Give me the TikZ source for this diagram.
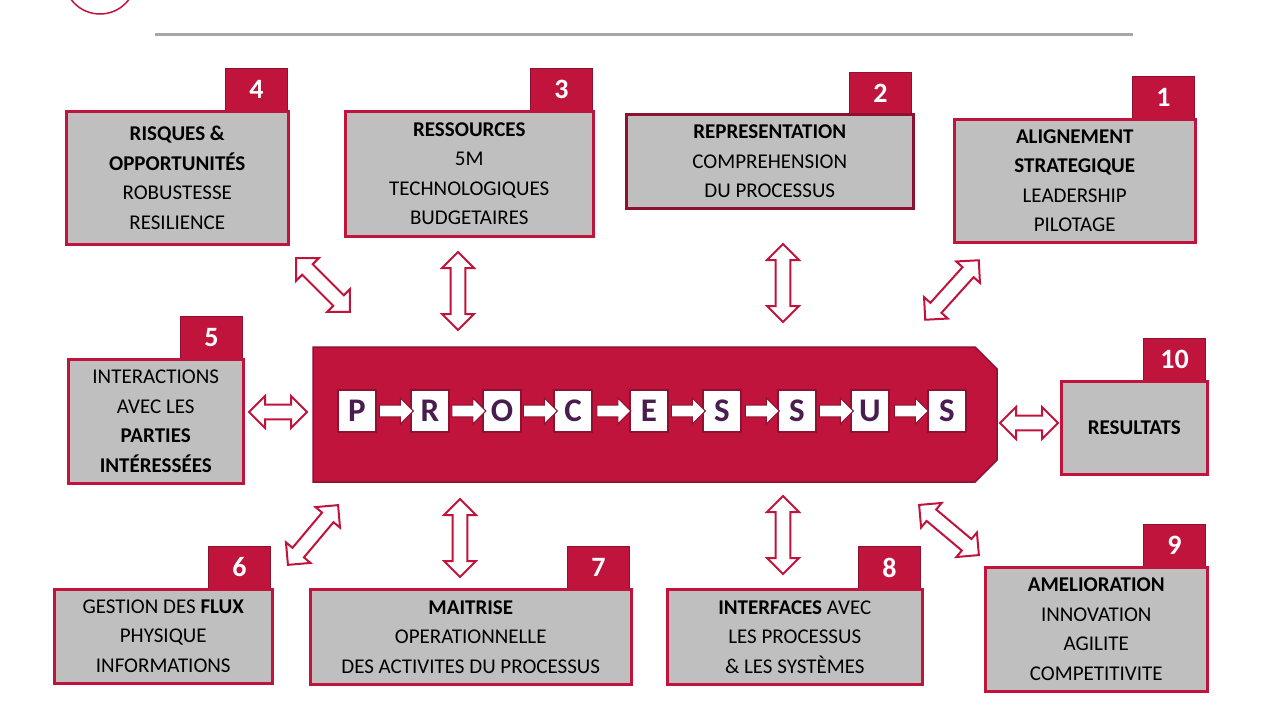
\documentclass[tikz,border=0pt]{standalone}
\usepackage{fontspec}
\setmainfont{Carlito}
\usetikzlibrary{shapes.arrows,arrows.meta}
\definecolor{crim}{HTML}{C0143C}
\definecolor{dred}{HTML}{8E1230}
\definecolor{gbox}{HTML}{BFBFBF}
\definecolor{ltr}{HTML}{4A1D4F}
\tikzset{
 box/.style={draw=crim,line width=2.5pt,fill=gbox,anchor=north west,align=center,font=\fontsize{21}{29.5}\selectfont,inner sep=0pt},
 tab/.style={fill=crim,draw=dred,line width=1pt,anchor=north west,minimum width=62pt,minimum height=42pt,text=white,font=\bfseries\fontsize{28}{28}\selectfont,inner sep=0pt},
 darr/.style={double arrow,draw=crim,fill=white,line width=2pt,inner sep=6pt,minimum width=32pt,double arrow head extend=8pt},
 lbox/.style={fill=white,draw=dred,line width=1.5pt,minimum width=38pt,minimum height=42pt,text=ltr,font=\bfseries\fontsize{33}{33}\selectfont,inner sep=0pt},
 sarr/.style={single arrow,fill=white,draw=dred,line width=1pt,inner sep=3.5pt,minimum width=26pt,minimum height=34pt,single arrow head extend=5pt}
}
\begin{document}
\begin{tikzpicture}[x=1pt,y=-1pt]
\useasboundingbox[fill=white] (0,0) rectangle (1280,720);
\draw[crim,line width=1.5pt] (100,-22) circle (36);
\draw[gray!70,line width=3pt] (155,34) -- (1133,34);
% boxes
\node[tab] (t4) at (225,68) {4};
\node[box,minimum width=222pt,minimum height=133pt] (b4) at (65,110) {\textbf{RISQUES \&}\\\textbf{OPPORTUNITÉS}\\ROBUSTESSE\\RESILIENCE};
\node[tab] (t3) at (530,68) {3};
\node[box,minimum width=248pt,minimum height=125pt] (b3) at (344,110) {\textbf{RESSOURCES}\\5M\\TECHNOLOGIQUES\\BUDGETAIRES};
\node[tab] (t2) at (849,72) {2};
\node[box,draw=dred,minimum width=287pt,minimum height=94pt] (b2) at (625,113) {\textbf{REPRESENTATION}\\COMPREHENSION\\DU PROCESSUS};
\node[tab] (t1) at (1132,76) {1};
\node[box,minimum width=241pt,minimum height=123pt] (b1) at (953,118) {\textbf{ALIGNEMENT}\\\textbf{STRATEGIQUE}\\LEADERSHIP\\PILOTAGE};
\node[tab] (t5) at (180,316) {5};
\node[box,minimum width=175pt,minimum height=124pt] (b5) at (67,358) {INTERACTIONS\\AVEC LES\\\textbf{PARTIES}\\\textbf{INTÉRESSÉES}};
\node[tab] (t10) at (1143,338) {10};
\node[box,minimum width=146pt,minimum height=93pt] (b10) at (1060,380) {\textbf{RESULTATS}};
\node[tab] (t6) at (208,546) {6};
\node[box,minimum width=218pt,minimum height=94pt] (b6) at (53,588) {GESTION DES \textbf{FLUX}\\PHYSIQUE\\INFORMATIONS};
\node[tab] (t7) at (567,546) {7};
\node[box,minimum width=321pt,minimum height=95pt] (b7) at (309,588) {\textbf{MAITRISE}\\OPERATIONNELLE\\DES ACTIVITES DU PROCESSUS};
\node[tab] (t8) at (858,546) {8};
\node[box,minimum width=255pt,minimum height=95pt] (b8) at (666,588) {\textbf{INTERFACES} AVEC\\LES PROCESSUS\\\& LES SYSTÈMES};
\node[tab] (t9) at (1143,524) {9};
\node[box,minimum width=222pt,minimum height=124pt] (b9) at (984,566) {\textbf{AMELIORATION}\\INNOVATION\\AGILITE\\COMPETITIVITE};
% process bar
\draw[fill=crim,draw=dred,line width=1.5pt] (313,347) -- (975,347) -- (997,369) -- (997,460) -- (975,482) -- (313,482) -- cycle;
\foreach \x/\l [count=\i] in {357/P,430/R,502/O,573/C,649/E,722/S,797/S,870/U,947/S}{
  \node[lbox] (L\i) at (\x,411) {\l};
}
\foreach \i [evaluate=\i as \j using int(\i+1)] in {1,...,8}{
  \path (L\i.east) -- (L\j.west) node[midway,sarr] (a\i) {};
}
% double arrows
\node[darr,minimum height=76pt,rotate=-45] (d4) at (323,285) {};
\node[darr,minimum height=78pt,rotate=90] (d3) at (458,291) {};
\node[darr,minimum height=78pt,rotate=90] (d2) at (783,283) {};
\node[darr,minimum height=80pt,rotate=48] (d1) at (952,290) {};
\node[darr,minimum height=58pt] (d5) at (278,412) {};
\node[darr,minimum height=58pt] (d10) at (1029,423) {};
\node[darr,minimum height=78pt,rotate=50] (d6) at (313,535) {};
\node[darr,minimum height=78pt,rotate=90] (d7) at (460,538) {};
\node[darr,minimum height=78pt,rotate=90] (d8) at (783,535) {};
\node[darr,minimum height=78pt,rotate=-40] (d9) at (949,530) {};
\end{tikzpicture}
\end{document}
